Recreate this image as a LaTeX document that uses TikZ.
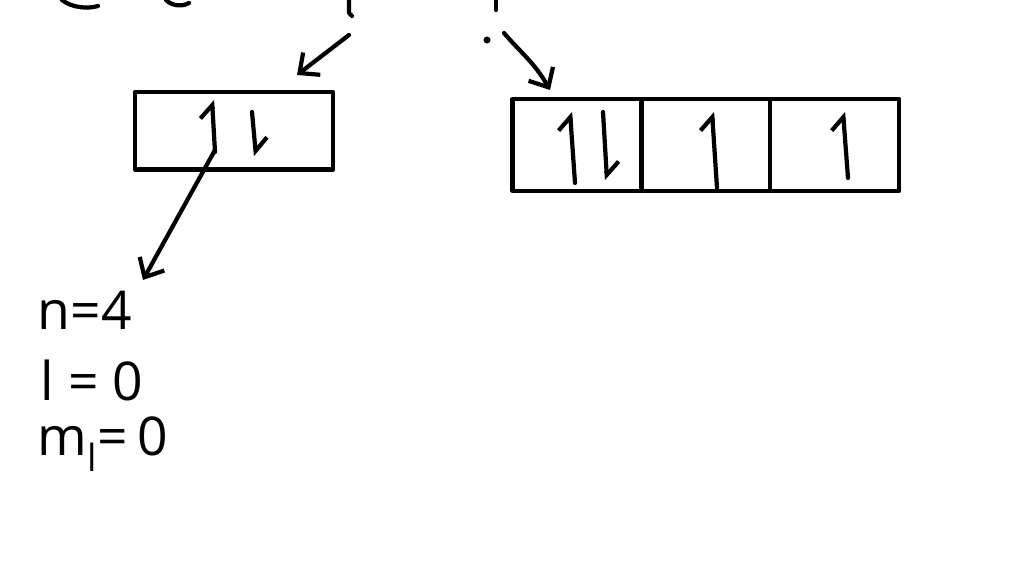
\documentclass[tikz,border=0pt]{standalone}
\usepackage{amssymb}
\usepackage{amsmath}
\usepackage{fontspec}
\setmainfont{Open Sans}
\usepackage{tikz}
\usetikzlibrary{positioning,arrows.meta}

\tikzset{
  pen/.style = {line width=3pt, line cap=round, line join=round},
  orbital/.style = {draw, pen, outer sep=0pt, minimum height=2.3cm, minimum width=3.22cm},
  spin/.style = {pen, -{Straight Barb[left, length=9pt, width=18pt]}},
  quantum/.style = {anchor=base west, font=\fontsize{38}{46}\selectfont},
  tip/.style = {-{Straight Barb[length=11pt, width=20pt]}}
}

\begin{document}
\begin{tikzpicture}[x=0.025cm, y=-0.025cm]
      \useasboundingbox (0,0) rectangle (1024,576);
      \draw[pen] (62,0) .. controls (72,8) and (88,9) .. (98,6);
      \draw[pen] (166,0) .. controls (172,6) and (182,7) .. (189,3);
      \draw[pen] (349,0) -- (349,13) -- (352,16);
      \draw[pen] (496,0) -- (496,10);
      \node [orbital, minimum width=4.95cm, minimum height=1.93cm] (single) at (234,131) {};
      \node [orbital] (cellA) at (577,145) {};
      \node [orbital, right=0pt of cellA] (cellB) {};
      \node [orbital, right=0pt of cellB] (cellC) {};
      \draw[spin] (215,152) -- (212,100);
      \draw[spin] (252,112) -- (256,156);
      \draw[spin] (575,183) -- (570,112);
      \draw[spin] (603,112) -- (607,180);
      \draw[spin] (717,188) -- (712,112);
      \draw[spin] (848,178) -- (843,112);
      \coordinate (singleup) at (215,150);
      \coordinate (leftstart) at (349,35);
      \coordinate (rightstart) at (504,33);
      \coordinate (leftend) at (297,75);
      \coordinate (rightend) at (550,90);
      \fill (487,40) circle (2.5pt);
      \draw[pen, tip] (leftstart) -- (leftend);
      \draw[pen, tip] (rightstart) .. controls (520,52) and (534,62) .. (rightend);
      \node [quantum] (nval) at (33,330) {n=4};
      \node [quantum] (lval) at (36,400) {l = 0};
      \node [quantum] (mval) at (33,455) {m\textsubscript{l}=\,0};
      \coordinate (nend) at (143,280);
      \draw[pen, tip] (singleup) -- (nend);
    \end{tikzpicture}
\end{document}
